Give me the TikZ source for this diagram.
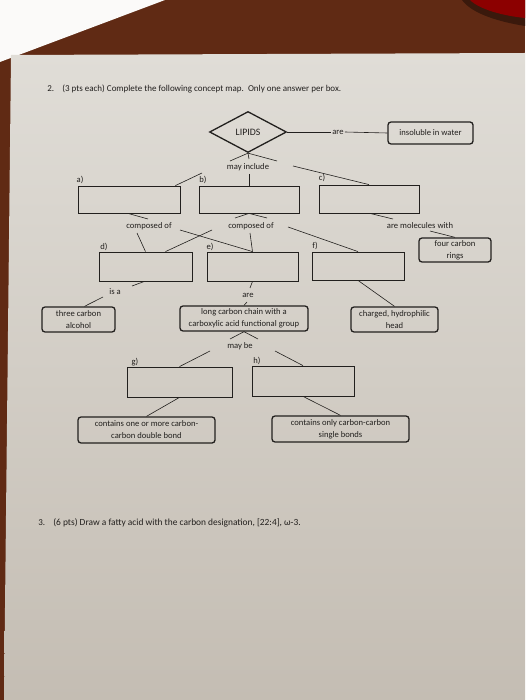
\documentclass[tikz,border=0pt]{standalone}
\usepackage{fontspec}
\setmainfont{Carlito}
\usepackage{tikz}
\usetikzlibrary{calc, positioning, shapes.geometric}
\definecolor{sheet}{RGB}{218,214,207}
\definecolor{sheettop}{RGB}{224,221,215}
\definecolor{sheetlow}{RGB}{196,189,179}
\definecolor{wood}{RGB}{96,42,20}
\definecolor{ink}{RGB}{34,32,30}

\begin{document}
\begin{tikzpicture}[x=1pt, y=-1pt, ink, line width=0.6pt,
	font=\fontsize{8.6}{9}\selectfont,
	answer/.style={draw=ink, line width=0.8pt, inner sep=0pt},
	given/.style={draw=ink, line width=1.3pt, rounded corners=3pt, align=center, inner sep=1pt, font=\fontsize{8.6}{12}\selectfont},
	link/.style={inner sep=1pt},
	tag/.style={inner sep=0pt},
	question/.style={anchor=base west, inner sep=0pt, font=\fontsize{9}{10}\selectfont}]

		% background - table, other sheet, worksheet %
		\fill[wood] (0,0) rectangle (525,700);
		\fill[wood!60!black] (462,0) .. controls (472,14) and (500,22) .. (525,26) -- (525,0) -- cycle;
		\fill[red!55!black] (470,0) .. controls (480,10) and (505,16) .. (525,18) -- (525,0) -- cycle;
		\fill[white!88!sheet] (0,0) -- (165,0) -- (0,62) -- cycle;
		\shade[top color=sheettop, bottom color=sheetlow] (11,55) -- (525,53) -- (525,700) -- (4,700) -- cycle;
		\useasboundingbox (0,0) rectangle (525,700);

		% question texts %
		\node[question] (qtwo) at (47,92) {2.};
		\node[question] (qtwotext) at (62,92) {(3 pts each) Complete the following concept map.\ \ Only one answer per box.};
		\node[question] (qthree) at (38,525) {3.};
		\node[question, font=\fontsize{9.4}{10}\selectfont] (qthreetext) at (53,525) {(6 pts) Draw a fatty acid with the carbon designation, [22:4], ω-3.};

		% nodes - top row %
		\node[diamond, draw=ink, line width=1.3pt, minimum width=77pt, minimum height=41pt, inner sep=0pt, font=\fontsize{9.8}{10}\selectfont] (lipids) at (248,132) {LIPIDS};
		\node[link] (are) at (338,132) {are};
		\node[given, minimum width=85pt, minimum height=22pt] (insol) at (430.5,133) {insoluble in water};
		\node[link] (mayinc) at (248,167) {may include};

		% nodes - answer boxes a) to c) %
		\node[answer, minimum width=102pt, minimum height=27pt] (boxa) at (129,199.5) {};
		\node[answer, minimum width=100pt, minimum height=27pt] (boxb) at (249,199.5) {};
		\node[answer, minimum width=100pt, minimum height=28pt] (boxc) at (369,199) {};
		\node[tag] (taga) at (80,180) {a)};
		\node[tag] (tagb) at (203,180) {b)};
		\node[tag] (tagc) at (322,178) {c)};

		\node[link] (compl) at (149,226) {composed of};
		\node[link] (compm) at (251,226) {composed of};
		\node[link] (aremol) at (420,226) {are molecules with};
		\node[given, minimum width=72pt, minimum height=24pt] (fourc) at (455,250) {four carbon\\rings};

		% nodes - answer boxes d) to f) %
		\node[answer, minimum width=93pt, minimum height=29pt] (boxd) at (145.5,266.5) {};
		\node[answer, minimum width=91pt, minimum height=29pt] (boxe) at (252.5,266.5) {};
		\node[answer, minimum width=92pt, minimum height=28pt] (boxf) at (358,266) {};
		\node[tag] (tagd) at (104,247) {d)};
		\node[tag] (tage) at (210,247) {e)};
		\node[tag] (tagf) at (315,246) {f)};

		\node[link] (isa) at (115,292) {is a};
		\node[link] (aretwo) at (248,295) {are};
		\node[given, minimum width=73pt, minimum height=25pt] (alc) at (78.5,319.5) {three carbon\\alcohol};
		\node[given, minimum width=128pt, minimum height=25pt] (chain) at (244,318.5) {long carbon chain with a\\carboxylic acid functional group};
		\node[given, minimum width=87pt, minimum height=25pt] (head) at (394.5,319.5) {charged, hydrophilic\\head};
		\node[link] (maybe) at (240,346) {may be};

		% nodes - answer boxes g) and h) %
		\node[answer, minimum width=105pt, minimum height=30pt] (boxg) at (179.5,382) {};
		\node[answer, minimum width=102pt, minimum height=30pt] (boxh) at (303,381) {};
		\node[tag] (tagg) at (135,362) {g)};
		\node[tag] (tagh) at (257,361) {h)};
		\node[given, minimum width=137pt, minimum height=26pt] (double) at (146.5,430) {contains one or more carbon-\\carbon double bond};
		\node[given, minimum width=137pt, minimum height=26pt] (single) at (340.5,429) {contains only carbon-carbon\\single bonds};

		% edges %
		\draw (lipids.east) -- (are.west);
		\draw (are.east) -- (insol.west);
		\draw (lipids.south) -- ($(mayinc)+(-18,-6)$);
		\draw (lipids.south) -- ($(mayinc)+(1,-8)$);
		\draw (lipids.south) -- ($(mayinc)+(29,-6)$);
		\draw ($(mayinc)+(-46,6)$) -- ($(boxa.north east)+(-5,0)$);
		\draw ($(mayinc)+(1,7)$) -- (boxb.north);
		\draw ($(mayinc)+(45,-1)$) -- (boxc.north);

		\draw ($(boxa.south)+(-1,0)$) -- ($(compl)+(-1,-7)$);
		\draw (boxb.south) -- ($(compm)+(-16,-8)$);
		\draw (boxb.south) -- ($(compm)+(16,-8)$);
		\draw ($(boxc.south)+(1,0)$) -- ($(aremol)+(-27,-7)$);
		\draw ($(compl)+(-12,7)$) -- (boxd.north);
		\draw ($(compl)+(31,4)$) -- (boxe.north);
		\draw ($(compm)+(-39,4)$) -- ($(boxd.north)+(20,0)$);
		\draw ($(compm)+(-1,7)$) -- (boxe.north);
		\draw ($(compm)+(37,1)$) -- (boxf.north);
		\draw ($(aremol)+(10,5)$) -- (fourc.north);

		\draw ($(boxd.south)+(-1,0)$) -- ($(isa)+(17,-6)$);
		\draw ($(isa)+(-12,5)$) -- ($(alc.north)+(6,0)$);
		\draw (boxe.south) -- ($(aretwo)+(2,-7)$);
		\draw ($(aretwo)+(-1,7)$) -- (chain.north);
		\draw (boxf.south) -- (head.north);
		\draw (chain.south) -- ($(maybe)+(-10,-7)$);
		\draw (chain.south) -- ($(maybe)+(18,-7)$);
		\draw ($(maybe)+(-30,5)$) -- (boxg.north);
		\draw ($(maybe)+(35,5)$) -- (boxh.north);
		\draw (boxg.south) -- (double.north);
		\draw (boxh.south) -- (single.north);

\end{tikzpicture}
\end{document}
